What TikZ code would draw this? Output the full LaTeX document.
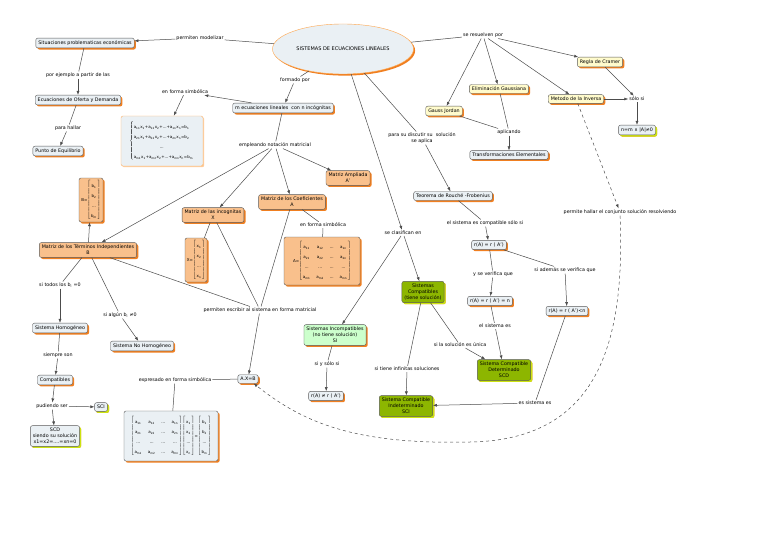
\documentclass[tikz,border=0pt]{standalone}
\usepackage{amsmath,amssymb}
\usepackage{fontspec}
\setmainfont{DejaVu Sans}
\usetikzlibrary{shadows,arrows.meta,shapes.geometric}
\definecolor{bluef}{HTML}{EAF0F4}
\definecolor{orf}{HTML}{F9C08C}
\definecolor{yelf}{HTML}{FFFBCC}
\definecolor{grf}{HTML}{8DB600}
\definecolor{lgf}{HTML}{CCFFCC}
\definecolor{shd}{HTML}{F07F20}
\newcommand{\sbx}[1]{\textsubscript{#1}}
\newcommand{\bmx}[2]{$\left[\begin{tabular}{@{\,}#1@{\,}}#2\end{tabular}\right]$}
\tikzset{
 base/.style={draw=gray!70!black, rounded corners=2pt, inner sep=2.5pt, align=center, font=\fontsize{4.8}{6}\selectfont,
   drop shadow={shadow xshift=1.6pt, shadow yshift=-1.6pt, fill=shd, opacity=1}},
 bn/.style={base, fill=bluef},
 on/.style={base, fill=orf},
 yn/.style={base, fill=yelf},
 gn/.style={base, fill=grf, drop shadow={shadow xshift=1.6pt, shadow yshift=-1.6pt, fill=yellow!80!green, opacity=1}},
 ln/.style={base, fill=lgf},
 lab/.style={font=\fontsize{4.8}{6}\selectfont, inner sep=1pt, align=center},
 ln0/.style={draw=gray!60!black, line width=0.5pt},
 ar/.style={ln0, -{Latex[length=4pt,width=3pt]}},
 mat/.style={font=\fontsize{4}{5}\selectfont\renewcommand\arraystretch{2}\setlength\tabcolsep{3pt}}
}
\begin{document}
\begin{tikzpicture}[x=1pt,y=-1pt]
\useasboundingbox (0,0) rectangle (768,543);
\fill[white] (0,0) rectangle (768,543);
% title
\node[ellipse, draw=orange!70, fill=bluef, minimum width=120, minimum height=50, font=\fontsize{5}{6}\selectfont,
 drop shadow={shadow xshift=1.6pt, shadow yshift=-1.6pt, fill=shd, opacity=1}] (title) at (343,49) {SISTEMAS DE ECUACIONES LINEALES};
% left column
\node[bn] (sit) at (85,43) {Situaciones problematicas económicas};
\node[lab] (lperm) at (200,38) {permiten modelizar};
\node[lab] (lej) at (78,75) {por ejemplo a partir de las};
\node[bn] (ecu) at (78,100) {Ecuaciones de Oferta y Demanda};
\node[lab] (lhal) at (68,128) {para hallar};
\node[bn] (pun) at (58,151) {Punto de Equilibrio};
\node[lab] (lform) at (295,80) {formado por};
\node[bn] (mec) at (283,108) {m ecuaciones lineales \ con n incógnitas};
\node[lab] (lsimb1) at (185,92) {en forma simbólica};
\node[draw=orange!60, fill=bluef, rounded corners=2pt, mat, inner sep=2pt, minimum width=82, minimum height=50,
 drop shadow={shadow xshift=1.2pt, shadow yshift=-1.2pt, fill=orange!40, opacity=1}] (eqs) at (162,141)
 {$\left\{\begin{tabular}{@{}l@{}} a\sbx{11}x\sbx{1}+a\sbx{12}x\sbx{2}+...+a\sbx{1n}x\sbx{n}=b\sbx{1}\\ a\sbx{21}x\sbx{1}+a\sbx{22}x\sbx{2}+...+a\sbx{2n}x\sbx{n}=b\sbx{2}\\ \hspace{26pt}...\\ a\sbx{m1}x\sbx{1}+a\sbx{m2}x\sbx{2}+...+a\sbx{mn}x\sbx{n}=b\sbx{m}\end{tabular}\right.$};
\node[lab] (lemp) at (275,145) {empleando notación matricial};
\node[on] (amp) at (348,178) {Matriz Ampliada\\A'};
\node[on] (coef) at (292,202) {Matriz de los Coeficientes\\A};
\node[on] (inc) at (213,215) {Matriz de las incognitas\\X};
\node[on] (tib) at (88,250) {Matriz de los Términos Independientes\\B};
\node[on, mat, minimum width=24, minimum height=44, inner sep=1pt] (bvec) at (91,200) {B=\bmx{c}{b\sbx{1}\\ b\sbx{2}\\ ...\\ b\sbx{m}}};
\node[on, mat, minimum width=22, minimum height=44, inner sep=1pt] (xvec) at (196,260) {X=\bmx{c}{x\sbx{1}\\ x\sbx{2}\\ ...\\ x\sbx{n}}};
\node[lab] (lsimb2) at (323,225) {en forma simbólica};
\node[on, mat, minimum width=76, minimum height=48, inner sep=1pt] (amat) at (322,261) {A=\bmx{cccc}{a\sbx{11} & a\sbx{12} & ... & a\sbx{1n}\\ a\sbx{21} & a\sbx{22} & ... & a\sbx{2n}\\ ... & ... & ... & ...\\ a\sbx{m1} & a\sbx{m2} & ... & a\sbx{mn}}};
\node[lab] (ltod) at (60,285) {si todos los b\sbx{i} =0};
\node[lab] (lalg) at (120,315) {si algún b\sbx{i} ≠0};
\node[lab] (lesc) at (260,310) {permiten escribir al sistema en forma matricial};
\node[bn] (hom) at (60,328) {Sistema Homogéneo};
\node[bn] (nhom) at (142,346) {Sistema No Homogéneo};
\node[lab] (lsie) at (58,355) {siempre son};
\node[bn] (comp) at (55,380) {Compatibles};
\node[lab] (lpud) at (52,406) {pudiendo ser};
\node[base, fill=bluef, drop shadow={shadow xshift=1.6pt, shadow yshift=-1.6pt, fill=yellow!80!green, opacity=1}] (sci1) at (101,407) {SCI};
\node[base, fill=bluef, drop shadow={shadow xshift=1.6pt, shadow yshift=-1.6pt, fill=yellow!80!green, opacity=1}] (scd1) at (55,436) {SCD\\siendo su solución\\x1=x2=....=xn=0};
\node[bn] (axb) at (248,379) {A.X=B};
\node[lab] (lexp) at (175,380) {expresado en forma simbólica};
\node[bn, mat, minimum width=94, minimum height=50, inner sep=1pt] (axbm) at (171,436) {\bmx{cccc}{a\sbx{11} & a\sbx{12} & ... & a\sbx{1n}\\ a\sbx{21} & a\sbx{22} & ... & a\sbx{2n}\\ ... & ... & ... & ...\\ a\sbx{m1} & a\sbx{m2} & ... & a\sbx{mn}}\bmx{c}{x\sbx{1}\\ x\sbx{2}\\ ...\\ x\sbx{n}}=\bmx{c}{b\sbx{1}\\ b\sbx{2}\\ ...\\ b\sbx{m}}};
% right part
\node[lab] (lres) at (483,35) {se resuelven por};
\node[yn] (cram) at (600,62) {Regla de Cramer};
\node[yn] (elim) at (499,89) {Eliminación Gaussiana};
\node[yn] (gj) at (444,111) {Gauss Jordan};
\node[yn] (inv) at (576,99) {Metodo de la Inversa};
\node[lab] (lsolo) at (637,99) {sólo si};
\node[base, fill=bluef, drop shadow={shadow xshift=1.6pt, shadow yshift=-1.6pt, fill=yellow!80!green, opacity=1}] (cond) at (637,130) {n=m ∧ |A|≠0};
\node[lab] (lapl) at (509,132) {aplicando};
\node[bn] (tra) at (509,155) {Transformaciones Elementales};
\node[lab] (ldis) at (422,138) {para su discutir su \ solución\\se aplica};
\node[bn] (teo) at (453,196) {Teorema de Rouché -Frobenius};
\node[lab] (lcs) at (485,223) {el sistema es compatible sólo si};
\node[bn] (r1) at (489,245) {r(A) = r ( A')};
\node[lab] (lcla) at (403,233) {se clasifican en};
\node[gn] (scomp) at (423,292) {Sistemas\\Compatibles\\(tiene solución)};
\node[lab] (lyse) at (493,274) {y se verifica que};
\node[lab] (lade) at (565,270) {si además se verifica que};
\node[bn] (r2) at (490,301) {r(A) = r ( A') = n};
\node[bn] (r3) at (567,311) {r(A) = r ( A')<n};
\node[lab] (lel) at (495,326) {el sistema es};
\node[ln] (sinc) at (335,335) {Sistemas Incompatibles\\(no tiene solución)\\SI};
\node[lab] (luni) at (460,345) {si la solución es única};
\node[lab] (lsys) at (327,364) {si y sólo si};
\node[bn] (rneq) at (326,396) {r(A) ≠ r ( A')};
\node[lab] (linf) at (407,369) {si tiene infinitas soluciones};
\node[gn] (scd2) at (504,370) {Sistema Compatible\\Determinado\\SCD};
\node[gn] (sci2) at (406,406) {Sistema Compatible\\Indeterminado\\SCI};
\node[lab] (lessis) at (535,403) {es sistema es};
\node[lab] (lperm2) at (620,212) {permite hallar el conjunto solución resolviendo};
% connectors
\draw[ln0] (title) -- (lperm); \draw[ar] (lperm) -- (sit);
\draw[ln0] (sit) -- (lej); \draw[ar] (lej) -- (ecu);
\draw[ln0] (ecu) -- (lhal); \draw[ar] (lhal) -- (pun);
\draw[ln0] (title) -- (lform); \draw[ar] (lform) -- (mec);
\draw[ar] (mec) -- (lsimb1); \draw[ar] (lsimb1) -- (eqs);
\draw[ln0] (mec) -- (lemp);
\draw[ar] (lemp) -- (amp); \draw[ar] (lemp) -- (coef); \draw[ar] (lemp) -- (inc); \draw[ar] (lemp) -- (tib);
\draw[ar] (tib) -- (bvec);
\draw[ln0] (inc) -- (xvec);
\draw[ln0] (coef) -- (lsimb2); \draw[ln0] (lsimb2) -- (amat);
\draw[ln0] (tib) -- (ltod); \draw[ar] (ltod) -- (hom);
\draw[ln0] (tib) -- (lalg); \draw[ar] (lalg) -- (nhom);
\draw[ln0] (tib) -- (lesc); \draw[ln0] (inc) -- (lesc); \draw[ln0] (coef) -- (lesc);
\draw[ar] (lesc) -- (axb);
\draw[ln0] (hom) -- (lsie); \draw[ar] (lsie) -- (comp);
\draw[ar] (comp) -- (lpud); \draw[ar] (lpud) -- (sci1); \draw[ar] (lpud) -- (scd1);
\draw[ln0] (axb) -- (lexp); \draw[ln0] (lexp) -- (axbm);
\draw[ln0] (title) -- (lres);
\draw[ar] (lres) -- (cram); \draw[ar] (lres) -- (elim); \draw[ar] (lres) -- (gj); \draw[ar] (lres) -- (inv);
\draw[ar] (cram) -- (lsolo); \draw[ar] (inv) -- (lsolo); \draw[ar] (lsolo) -- (cond);
\draw[ln0] (gj) -- (lapl); \draw[ln0] (elim) -- (lapl); \draw[ar] (lapl) -- (tra);
\draw[ln0] (title) -- (ldis); \draw[ar] (ldis) -- (teo);
\draw[ln0] (teo) -- (lcs); \draw[ar] (lcs) -- (r1);
\draw[ar] (title) -- (lcla); \draw[ar] (lcla) -- (sinc); \draw[ar] (lcla) -- (scomp);
\draw[ln0] (r1) -- (lyse); \draw[ar] (lyse) -- (r2);
\draw[ln0] (r1) -- (lade); \draw[ar] (lade) -- (r3);
\draw[ln0] (r2) -- (lel); \draw[ar] (lel) -- (scd2);
\draw[ln0] (scomp) -- (luni); \draw[ar] (luni) -- (scd2);
\draw[ln0] (scomp) -- (linf); \draw[ar] (linf) -- (sci2);
\draw[ln0] (sinc) -- (lsys); \draw[ar] (lsys) -- (rneq);
\draw[ln0] (r3) -- (lessis); \draw[ar] (lessis) -- (sci2);
\draw[ar, dashed] (inv) -- (lperm2);
\draw[ar, dashed] (lperm2) .. controls (625,340) and (600,440) .. (470,442) .. controls (350,445) and (300,420) .. (axb);
\end{tikzpicture}
\end{document}
